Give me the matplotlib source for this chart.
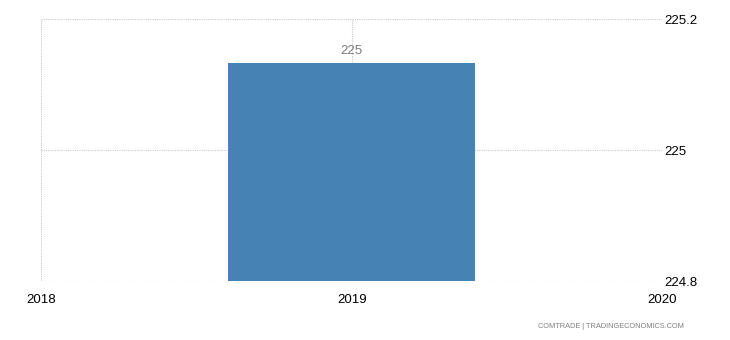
import matplotlib
matplotlib.use("Agg")
import matplotlib.pyplot as plt

years = [2019]
values = [225.133]
value_labels = ["225"]
xticks = [2018, 2019, 2020]
yticks = [224.8, 225.0, 225.2]
ytick_labels = ["224.8", "225", "225.2"]

plt.rcParams['font.family'] = ['Liberation Sans', 'DejaVu Sans']

fig = plt.figure(figsize=(7.3, 3.4), dpi=100)
ax = fig.add_axes([41/730, (340-281.3)/340, (662.3-41)/730, (281.3-19.3)/340])

base = yticks[0]
ax.bar(years, [v - base for v in values], bottom=base, width=0.795, color="#4682b4", zorder=2)
for x, v, t in zip(years, values, value_labels):
    ax.text(x, v + 0.010, t, ha="center", va="bottom", fontsize=9.5, color="#7a7a7a")

ax.set_xlim(xticks[0], xticks[-1])
ax.set_ylim(yticks[0], yticks[-1])
ax.set_xticks(xticks)
ax.set_xticklabels([str(x) for x in xticks], fontsize=9.5)
ax.set_yticks(yticks)
ax.set_yticklabels(ytick_labels, fontsize=9.5)
ax.yaxis.tick_right()
ax.tick_params(axis="both", length=0, colors="black")
ax.tick_params(axis="y", pad=1.5)
ax.tick_params(axis="x", pad=9)
for s in ax.spines.values():
    s.set_visible(False)
ax.grid(True, color="#c8c8c8", linestyle=(0, (1, 1)), linewidth=0.8, zorder=0)

fig.text(684/730, 1 - 326/340, "COMTRADE | TRADINGECONOMICS.COM", ha="right", va="center",
         fontsize=5.3, color="#808080")

fig.savefig("out.png", dpi=100)
